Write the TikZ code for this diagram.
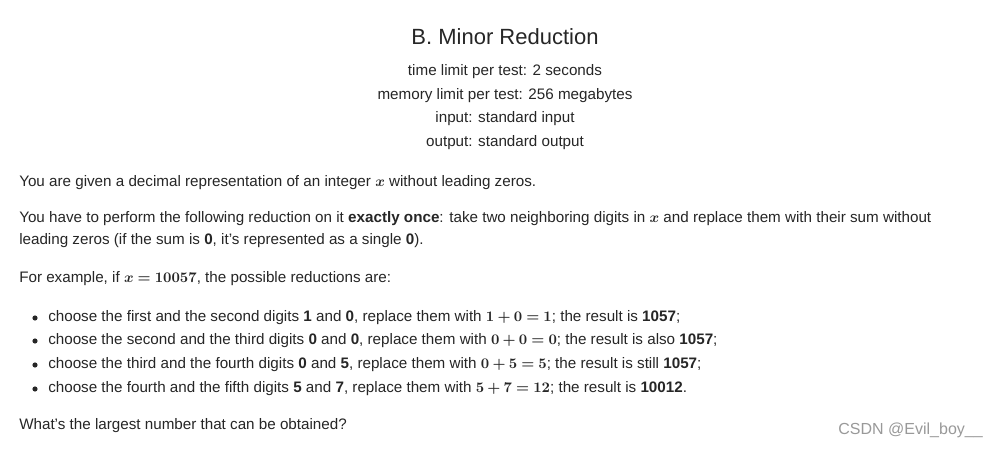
\documentclass[tikz,border=0pt]{standalone}
\usepackage{amsmath,bm}
\usepackage{fontspec}
\setmainfont{Liberation Sans}
\begin{document}
\begin{tikzpicture}[x=0.75pt,y=-0.75pt,
  t/.style={anchor=west,inner sep=0pt,font=\fontsize{11.4}{13}\selectfont,text=black!85},
  c/.style={anchor=center,inner sep=0pt,font=\fontsize{11.4}{13}\selectfont,text=black!85}]
\useasboundingbox[fill=white] (0,0) rectangle (997,449);
\node[c,font=\fontsize{16.5}{19}\selectfont] (title) at (505,37) {B. Minor Reduction};
\node[c] (h1) at (505,72) {time limit per test: 2 seconds};
\node[c] (h2) at (505,96) {memory limit per test: 256 megabytes};
\node[c] (h3) at (505,119) {input: standard input};
\node[c] (h4) at (505,143) {output: standard output};
\node[t] (p1) at (19,183) {You are given a decimal representation of an integer $\bm{x}$ without leading zeros.};
\node[t] (p2) at (19,219) {You have to perform the following reduction on it \textbf{exactly once}: take two neighboring digits in $\bm{x}$ and replace them with their sum without};
\node[t] (p3) at (19,241) {leading zeros (if the sum is $\mathbf{0}$, it's represented as a single $\mathbf{0}$).};
\node[t] (p4) at (19,279) {For example, if $\bm{x=10057}$, the possible reductions are:};
\node[t] (b1) at (48,318) {choose the first and the second digits $\mathbf{1}$ and $\mathbf{0}$, replace them with $\bm{1+0=1}$; the result is $\mathbf{1057}$;};
\node[t] (b2) at (48,341) {choose the second and the third digits $\mathbf{0}$ and $\mathbf{0}$, replace them with $\bm{0+0=0}$; the result is also $\mathbf{1057}$;};
\node[t] (b3) at (48,365) {choose the third and the fourth digits $\mathbf{0}$ and $\mathbf{5}$, replace them with $\bm{0+5=5}$; the result is still $\mathbf{1057}$;};
\node[t] (b4) at (48,389) {choose the fourth and the fifth digits $\mathbf{5}$ and $\mathbf{7}$, replace them with $\bm{5+7=12}$; the result is $\mathbf{10012}$.};
\foreach \yy in {318,341,365,389} \fill[black!85] (35,\yy) circle (2.6);
\node[t] (p5) at (19,426) {What's the largest number that can be obtained?};
\node[anchor=east,inner sep=0pt,font=\fontsize{12}{14}\selectfont,text=black!40] (wm) at (983,430) {CSDN @Evil\_boy\_\_};
\end{tikzpicture}
\end{document}
